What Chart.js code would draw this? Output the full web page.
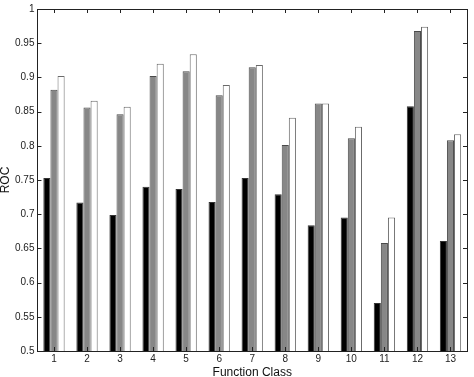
<!DOCTYPE html>
<html>
<head>
<meta charset="utf-8">
<script src="https://cdn.jsdelivr.net/npm/chart.js@4/dist/chart.umd.min.js"></script>
<style>
  html, body { margin: 0; padding: 0; background: #fff; }
  #wrap { width: 474px; height: 377px; }
</style>
</head>
<body>
<div id="wrap"><canvas id="rocChart" width="474" height="377"></canvas></div>
<script>
'use strict';

// --- data ---
const CLASSES = ['1', '2', '3', '4', '5', '6', '7', '8', '9', '10', '11', '12', '13'];
const SERIES_A = [0.753, 0.717, 0.699, 0.740, 0.737, 0.718, 0.753, 0.729, 0.684, 0.695, 0.570, 0.858, 0.661];
const SERIES_B = [0.882, 0.856, 0.846, 0.902, 0.909, 0.874, 0.915, 0.801, 0.862, 0.811, 0.658, 0.968, 0.808];
const SERIES_C = [0.902, 0.866, 0.857, 0.920, 0.934, 0.889, 0.918, 0.841, 0.862, 0.828, 0.695, 0.974, 0.817];
const Y_MIN = 0.5, Y_MAX = 1, Y_STEP = 0.05;

const FONT = 'Liberation Sans, Arial, Helvetica, sans-serif';

// matlab-ish box with inward ticks on all four sides
const boxTicks = {
  id: 'boxTicks',
  afterDatasetsDraw(chart) {
    const { ctx, chartArea: a, scales: { x, y } } = chart;
    const len = 4;
    ctx.save();
    ctx.strokeStyle = '#222';
    ctx.lineWidth = 1;
    ctx.beginPath();
    x.ticks.forEach((t, i) => {
      const px = Math.round(x.getPixelForTick(i)) + 0.5;
      ctx.moveTo(px, a.bottom); ctx.lineTo(px, a.bottom - len);
      ctx.moveTo(px, a.top); ctx.lineTo(px, a.top + len);
    });
    y.ticks.forEach(t => {
      const py = Math.round(y.getPixelForValue(t.value)) + 0.5;
      ctx.moveTo(a.left, py); ctx.lineTo(a.left + len, py);
      ctx.moveTo(a.right, py); ctx.lineTo(a.right - len, py);
    });
    ctx.stroke();
    ctx.strokeRect(Math.round(a.left) + 0.5, Math.round(a.top) + 0.5,
      Math.round(a.right - a.left), Math.round(a.bottom - a.top));
    ctx.restore();
  },
};

new Chart(document.getElementById('rocChart').getContext('2d'), {
  type: 'bar',
  data: {
    labels: CLASSES,
    datasets: [
      { label: 'A', data: SERIES_A, backgroundColor: '#000', borderColor: '#333', borderWidth: 1 },
      { label: 'B', data: SERIES_B, backgroundColor: '#878787', borderColor: '#4a4a4a', borderWidth: 1 },
      { label: 'C', data: SERIES_C, backgroundColor: '#fff', borderColor: '#6a6a6a', borderWidth: 1 },
    ],
  },
  options: {
    responsive: false,
    animation: false,
    layout: { padding: { top: 9, right: 7, left: 0, bottom: -2 } },
    datasets: { bar: { categoryPercentage: 0.645, barPercentage: 1 } },
    plugins: { legend: { display: false }, tooltip: { enabled: false } },
    scales: {
      x: {
        grid: { display: false, drawTicks: false },
        border: { display: false },
        ticks: { color: '#222', font: { family: FONT, size: 10, lineHeight: 1 }, padding: 3, maxRotation: 0 },
        title: { display: true, text: 'Function Class', color: '#111', font: { family: FONT, size: 12, lineHeight: 1 }, padding: 0 },
      },
      y: {
        min: Y_MIN,
        max: Y_MAX,
        grid: { display: false, drawTicks: false },
        border: { display: false },
        ticks: {
          stepSize: Y_STEP,
          color: '#222',
          padding: 3,
          font: { family: FONT, size: 10 },
          callback: v => String(parseFloat(v.toFixed(2))),
        },
        title: { display: true, text: 'ROC', color: '#111', font: { family: FONT, size: 12, lineHeight: 1 }, padding: 0 },
      },
    },
  },
  plugins: [boxTicks],
});
</script>
</body>
</html>
